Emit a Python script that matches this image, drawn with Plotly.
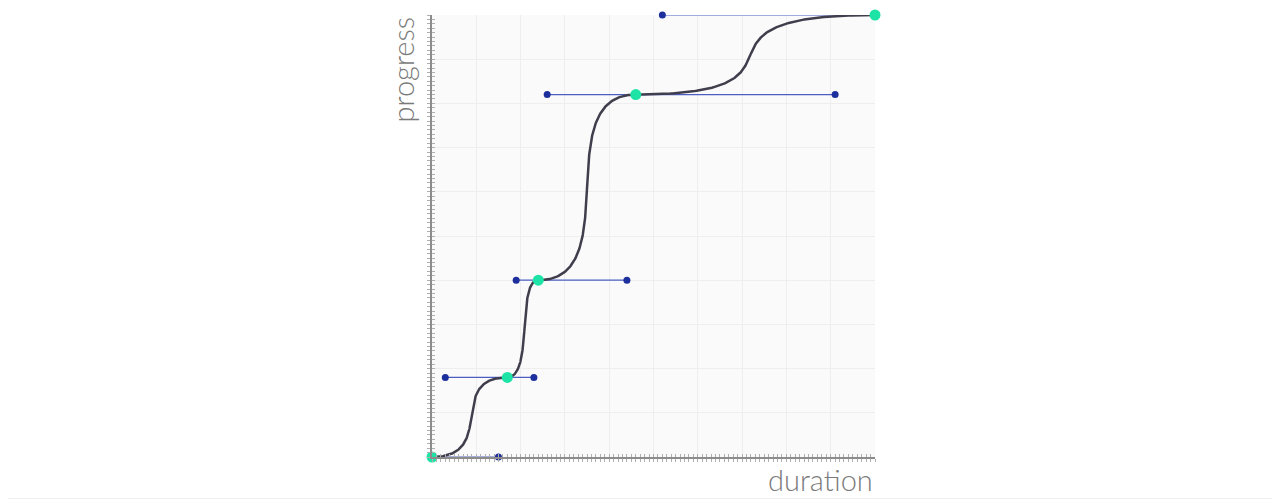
import numpy as np
import plotly.graph_objects as go

# Anchor points of the easing curve (data units 0..1)
anchor_x = [0.0, 0.17, 0.24, 0.46, 1.0]
anchor_y = [0.0, 0.18, 0.40, 0.82, 1.0]
# Control handles (same y as their anchor); None where absent
handle_in_x = [None, 0.03, 0.19, 0.26, 0.52]
handle_out_x = [0.15, 0.23, 0.44, 0.91, None]

CURVE = "#403e4c"
ANCHOR = "#1ee3a6"
HANDLE_DOT = "#1d2f9c"
HANDLE_LINE = "#4d5ec2"

# cubic bezier between consecutive anchors using the handles
t = np.linspace(0, 1, 200)
cx, cy = [], []
for i in range(len(anchor_x) - 1):
    p0 = (anchor_x[i], anchor_y[i])
    p1 = (handle_out_x[i], anchor_y[i])
    p2 = (handle_in_x[i + 1], anchor_y[i + 1])
    p3 = (anchor_x[i + 1], anchor_y[i + 1])
    a, b, c, d = (1 - t) ** 3, 3 * (1 - t) ** 2 * t, 3 * (1 - t) * t ** 2, t ** 3
    cx.extend(a * p0[0] + b * p1[0] + c * p2[0] + d * p3[0])
    cy.extend(a * p0[1] + b * p1[1] + c * p2[1] + d * p3[1])

# handle lines and dots
hlx, hly, hdx, hdy = [], [], [], []
for i in range(len(anchor_x)):
    lo = handle_in_x[i] if handle_in_x[i] is not None else anchor_x[i]
    hi = handle_out_x[i] if handle_out_x[i] is not None else anchor_x[i]
    hlx += [lo, hi, None]
    hly += [anchor_y[i], anchor_y[i], None]
    for h in (handle_in_x[i], handle_out_x[i]):
        if h is not None:
            hdx.append(h)
            hdy.append(anchor_y[i])

fig = go.Figure()
fig.add_trace(go.Scatter(x=hlx, y=hly, mode="lines",
                         line=dict(color=HANDLE_LINE, width=1.2),
                         hoverinfo="skip", cliponaxis=False))
fig.add_trace(go.Scatter(x=hdx, y=hdy, mode="markers",
                         marker=dict(color=HANDLE_DOT, size=7),
                         cliponaxis=False))
fig.add_trace(go.Scatter(x=cx, y=cy, mode="lines",
                         line=dict(color=CURVE, width=2.5),
                         hoverinfo="skip", cliponaxis=False))
fig.add_trace(go.Scatter(x=anchor_x, y=anchor_y, mode="markers",
                         marker=dict(color=ANCHOR, size=11),
                         cliponaxis=False))

axis_common = dict(range=[0, 1], showticklabels=False, zeroline=False)
fig.update_layout(
    width=1264, height=492,
    margin=dict(l=424, r=397, t=7, b=43),
    paper_bgcolor="white", plot_bgcolor="#fafafa",
    showlegend=False,
    xaxis=dict(**axis_common, dtick=0.1, showgrid=True, gridcolor="#eeeeee",
               gridwidth=1, showline=True, linecolor="#8c8c8c", linewidth=2,
               ticks="outside", ticklen=3, tickcolor="#b0b0b0", tickwidth=1,
               minor=dict(dtick=0.01, ticks="outside", ticklen=3,
                          tickcolor="#b0b0b0", tickwidth=1, showgrid=False)),
    yaxis=dict(**axis_common, dtick=0.1, showgrid=True, gridcolor="#eeeeee",
               gridwidth=1, showline=True, linecolor="#8c8c8c", linewidth=2,
               ticks="outside", ticklen=3, tickcolor="#b0b0b0", tickwidth=1,
               minor=dict(dtick=0.01, ticks="outside", ticklen=3,
                          tickcolor="#b0b0b0", tickwidth=1, showgrid=False)),
    xaxis2=dict(**axis_common, overlaying="x", anchor="y", side="bottom",
                dtick=0.01, ticks="inside", ticklen=3, tickcolor="#b0b0b0",
                tickwidth=1, showgrid=False, showline=False),
    yaxis2=dict(**axis_common, overlaying="y", anchor="x", side="left",
                dtick=0.01, ticks="inside", ticklen=3, tickcolor="#b0b0b0",
                tickwidth=1, showgrid=False, showline=False),
)
# invisible trace to activate the overlay axes
fig.add_trace(go.Scatter(x=[None], y=[None], xaxis="x2", yaxis="y2",
                         hoverinfo="skip"))

title_font = dict(family="Lato, 'Open Sans', sans-serif", size=29,
                  color="#7a7a7a", weight=300)
fig.add_annotation(text="duration", xref="paper", yref="paper", x=1, y=0,
                   xanchor="right", yanchor="top", yshift=-3, showarrow=False,
                   font=title_font)
fig.add_annotation(text="progress", xref="paper", yref="paper", x=0, y=1,
                   xanchor="right", yanchor="top", xshift=-11, textangle=-90,
                   showarrow=False, font=title_font)

# faint page border at the bottom
fig.add_shape(type="line", xref="paper", yref="paper",
              x0=-0.96, x1=1.9, y0=(449 - 490.5) / 442, y1=(449 - 490.5) / 442,
              line=dict(color="#eeeeee", width=1))

fig.write_html("out.html")
